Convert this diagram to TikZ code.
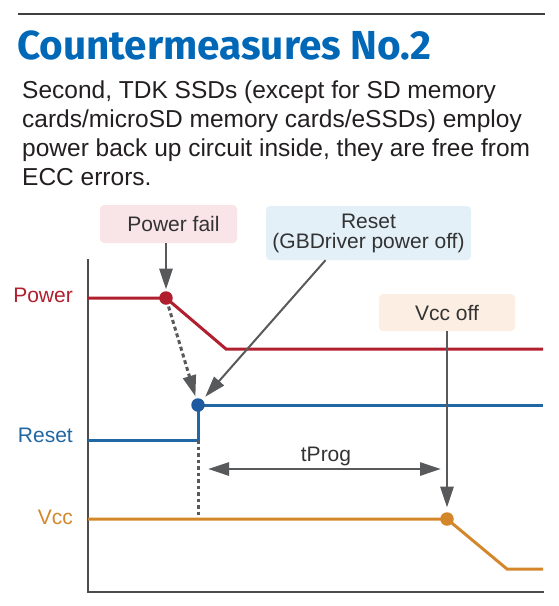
\documentclass[tikz,border=0pt]{standalone}
\usepackage{fontspec}
\setmainfont{Liberation Sans}
\newfontfamily\titlefont{Fira Sans}
\usetikzlibrary{arrows.meta,positioning,calc}
\definecolor{titleBlue}{HTML}{0068B7}
\definecolor{bodyText}{HTML}{231F20}
\definecolor{sigPower}{HTML}{B01F2E}
\definecolor{sigReset}{HTML}{2067A3}
\definecolor{sigResetDot}{HTML}{1F5AA0}
\definecolor{sigVcc}{HTML}{D4862B}
\definecolor{arrowGray}{HTML}{58595B}
\definecolor{failFill}{HTML}{F9E4E8}
\definecolor{resetFill}{HTML}{E3F0F8}
\definecolor{vccFill}{HTML}{FCEEE2}

\begin{document}
\begin{tikzpicture}[
  x=1pt, y=-1pt,
  >={Triangle[length=21pt,width=13pt]},
  siglabel/.style={font=\fontsize{21}{21}\selectfont, inner sep=0pt},
  notebox/.style={rounded corners=4pt, inner sep=0pt, align=center,
    text=black!80, font=\fontsize{21}{20}\selectfont},
  signal/.style={line width=3pt},
  sigdot/.style={circle, inner sep=0pt, minimum size=13.5pt},
  pointer/.style={->, line width=2.8pt, draw=arrowGray},
  guide/.style={line width=3pt, draw=arrowGray, dash pattern=on 3.5pt off 3pt},
  axis/.style={line width=1.9pt, draw=black!70}
]
  \useasboundingbox (0,0) rectangle (558,606);

  \draw[line width=1.2pt, draw=black!75] (18,14) -- (545,14);
  \node[anchor=base west, inner sep=0pt, text=titleBlue,
    font=\titlefont\bfseries\fontsize{40.5}{40.5}\selectfont] (title) at (17,59) {Countermeasures No.2};
  \node[anchor=north west, inner sep=0pt, align=left, text=bodyText,
    font=\fontsize{24.5}{29}\selectfont] (intro) at (22,81)
    {Second, TDK SSDs (except for SD memory\\cards/microSD memory cards/eSSDs) employ\\power back up circuit inside, they are free from\\ECC errors.};

  \draw[axis] (88,259) -- (88,592) -- (544,592);

  \coordinate (pfall) at (166,298);
  \coordinate (rrise) at (198,405);
  \coordinate (vfall) at (447,519);
  \coordinate (rstep) at (198,440);

  \draw[signal, draw=sigPower] (88,298) -- (pfall) -- (226,349) -- (543,349);
  \draw[signal, draw=sigReset] (88,440) -- (rstep) -- (rrise) -- (543,405);
  \draw[signal, draw=sigVcc] (88,519) -- (vfall) -- (507,569) -- (543,569);

  \node[sigdot, fill=sigPower] (pdot) at (pfall) {};
  \node[sigdot, fill=sigResetDot] (rdot) at (rrise) {};
  \node[sigdot, fill=sigVcc] (vdot) at (vfall) {};

  \node[siglabel, text=sigPower, anchor=base east] (lblPower) at (73,302) {Power};
  \node[siglabel, text=sigReset, anchor=base east] (lblReset) at (73,442) {Reset};
  \node[siglabel, text=sigVcc, anchor=base east] (lblVcc) at (73,524) {Vcc};

  \node[notebox, fill=failFill, minimum width=137pt, minimum height=38pt] (failbox) at (168.5,224) {\hspace{10pt}Power fail};
  \node[notebox, fill=resetFill, minimum width=205pt, minimum height=54pt] (resetbox) at (368.5,233) {Reset\\(GBDriver power off)};
  \node[notebox, fill=vccFill, minimum width=136pt, minimum height=37pt] (vccbox) at (447,312.5) {Vcc off};

  \draw[pointer, shorten >=1.5pt] (failbox.south -| pdot) -- (pdot.north);
  \draw[pointer, line width=2pt, shorten >=4pt] ([xshift=-43pt]resetbox.south) -- (rdot);
  \draw[pointer, line width=3pt, dash pattern=on 4pt off 3pt, shorten <=2pt, shorten >=2pt] (pdot) -- (rdot);
  \draw[pointer, shorten >=4.5pt] (vccbox.south) -- (vdot.north);

  \coordinate (tpL) at (208,469);
  \coordinate (tpR) at (441,469);
  \draw[pointer, <->] (tpL) -- (tpR);
  \node[siglabel, text=black!80, anchor=base] (tprog) at (326,461) {tProg};

  \coordinate (rfoot) at (198,517);
  \draw[guide] (rstep) -- (rfoot);
\end{tikzpicture}
\end{document}
